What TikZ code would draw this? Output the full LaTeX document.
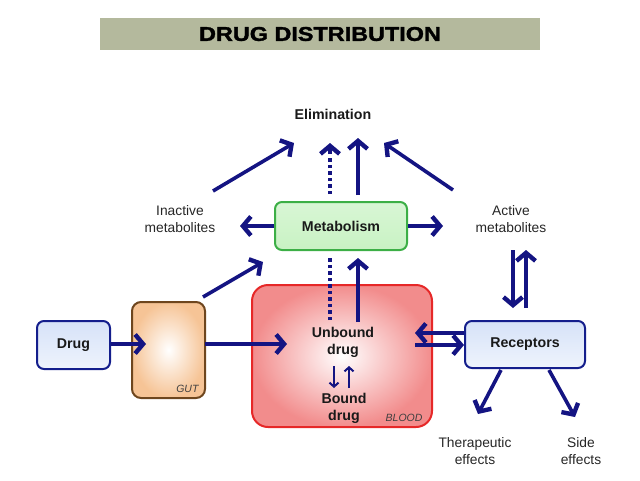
\documentclass[tikz,border=0pt]{standalone}
\usepackage{fontspec}
\setmainfont{Liberation Sans}
\newfontfamily\heavyfont[FakeBold=1.6]{Liberation Sans Bold}
\usetikzlibrary{arrows.meta,calc}
\definecolor{navy}{RGB}{20,20,130}
\definecolor{banner}{RGB}{180,185,157}
\definecolor{boxblue}{RGB}{20,30,140}
\definecolor{lightblue}{RGB}{214,226,248}
\definecolor{metgreen}{RGB}{60,175,70}
\definecolor{lightgreen}{RGB}{200,242,195}
\definecolor{gutbrown}{RGB}{110,70,30}
\definecolor{peach}{RGB}{246,196,150}
\definecolor{bloodred}{RGB}{230,40,40}
\definecolor{pinkred}{RGB}{242,140,140}
\begin{document}
\begin{tikzpicture}[x=1pt,y=-1pt,
  arr/.style={draw=navy,line width=3.6pt,-{Straight Barb[length=8pt,width=19pt,line width=4.4pt]}},
  thinarr/.style={draw=navy,line width=2pt,-{Straight Barb[length=4pt,width=9pt,line width=2pt]}},
  dotline/.style={draw=navy,line width=3.6pt,dash pattern=on 3.5pt off 3pt},
  lbl/.style={font=\fontsize{13.8}{16.5}\selectfont,align=center,text=black!85},
  blbl/.style={font=\fontsize{14.2}{17}\selectfont\bfseries,align=center,text=black!90},
  tag/.style={font=\fontsize{10.5}{12}\selectfont\itshape,text=black!75},
  bluebox/.style={draw=boxblue,line width=2pt,rounded corners=7pt,top color=lightblue,bottom color=lightblue!40!white,inner sep=0pt}
]
\useasboundingbox (0,0) rectangle (640,480);
% title
\node[fill=banner,minimum width=440pt,minimum height=32pt,inner sep=0pt] (title) at (320,34)
  {\fontsize{20}{22}\selectfont\heavyfont\scalebox{1.17}[1]{DRUG DISTRIBUTION}};
% boxes
\shade[draw=bloodred,line width=2pt,rounded corners=16pt,inner color=white,outer color=pinkred]
  (252,285) rectangle (432,427);
\node[minimum width=180pt,minimum height=142pt,inner sep=0pt] (blood) at (342,356) {};
\shade[draw=gutbrown,line width=2pt,rounded corners=9pt,inner color=white,outer color=peach]
  (132,302) rectangle (205,398);
\node[minimum width=73pt,minimum height=96pt,inner sep=0pt] (gut) at (168.5,350) {};
\node[tag,anchor=south east] (guttag) at (202,396) {GUT};
\node[tag,anchor=south east] (bloodtag) at (426,425) {BLOOD};
\node[bluebox,minimum width=73pt,minimum height=48pt] (drug) at (73.5,345) {};
\node[blbl] at (drug) {Drug};
\node[bluebox,minimum width=120pt,minimum height=47pt] (rec) at (525,344.5) {};
\node[blbl] at (rec) {Receptors};
\node[draw=metgreen,line width=2pt,rounded corners=7pt,top color=lightgreen!70!white,bottom color=lightgreen,
  minimum width=132pt,minimum height=48pt,inner sep=0pt] (met) at (341,226) {};
\node[blbl] at (met) {Metabolism};
% labels
\node[blbl] (elim) at (333,114) {Elimination};
\node[lbl] (inact) at (180,219) {Inactive\\metabolites};
\node[lbl] (act) at (511,219) {Active\\metabolites};
\node[blbl] (unb) at (343,342) {Unbound\\drug};
\node[blbl] (bnd) at (344,408) {Bound\\drug};
\node[lbl] (ther) at (475,451) {Therapeutic\\effects};
\node[lbl] (side) at (581,451) {Side\\effects};
% coordinates for free ends
\coordinate (e1) at (294,143);
\coordinate (e2) at (330,143);
\coordinate (e3) at (358,138);
\coordinate (e4) at (384,143);
% arrows to elimination
\draw[arr] (213,191) -- (e1);
\draw[dotline] (330,194) -- (330,155);
\draw[navy,line width=3.6pt,-{Straight Barb[length=8pt,width=19pt,line width=4.4pt]}] (330,154) -- (e2);
\draw[arr] (358,195) -- (e3);
\draw[arr] (453,190) -- (e4);
% from metabolism
\draw[arr] (met.west) -- (240,226);
\draw[arr] (met.east) -- (443,226);
% active metabolites <-> receptors
\draw[arr] (513,250) -- (513,308);
\draw[arr] (526,308) -- (526,250);
% drug -> gut
\draw[arr] (drug.east |- 0,344) -- (146,344);
% gut -> metabolism
\draw[arr] (203,297) -- (263,262);
% gut -> blood
\draw[arr] (205,344) -- (287,344);
% blood -> metabolism
\draw[dotline] (330,320) -- (330,258);
\draw[arr] (358,322) -- (358,258);
% unbound <-> bound
\draw[thinarr] (334,366) -- (334,388);
\draw[thinarr] (349,388) -- (349,366);
% blood <-> receptors
\draw[arr] (rec.west |- 0,333) -- (415,333);
\draw[arr] (415,345) -- (rec.west |- 0,345);
% receptors -> effects
\draw[arr] (501,370) -- (478,414);
\draw[arr] (549,370) -- (575,417);
\end{tikzpicture}
\end{document}
